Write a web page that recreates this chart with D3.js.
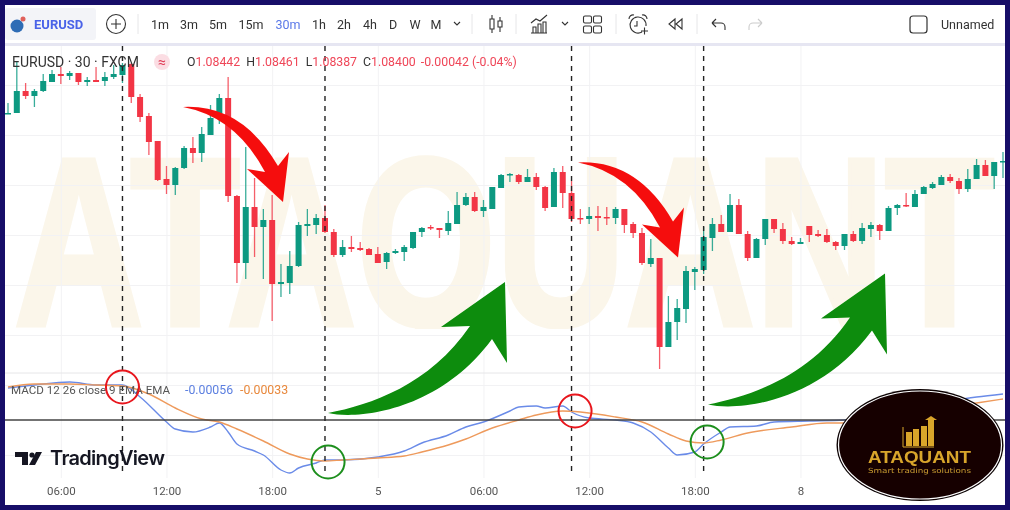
<!DOCTYPE html>
<html>
<head>
<meta charset="utf-8">
<script src="https://cdn.jsdelivr.net/npm/d3@7"></script>
<style>
html,body{margin:0;padding:0;background:#170e68;}
svg{display:block;font-family:Roboto,"Liberation Sans",sans-serif;}
</style>
</head>
<body>
<div id="chart"></div>
<script>
// one candle every 30 min, EURUSD
var opens = [1.08542,1.08544,1.08588,1.08578,1.08588,1.08606,1.08622,1.08618,1.08624,1.08606,
    1.08610,1.08608,1.08616,1.08620,1.08642,1.08576,1.08538,1.08488,1.08412,1.08400,
    1.08434,1.08474,1.08464,1.08500,1.08534,1.08574,1.08378,1.08244,1.08356,1.08316,
    1.08330,1.08202,1.08204,1.08238,1.08318,1.08320,1.08334,1.08306,1.08260,1.08276,
    1.08274,1.08272,1.08262,1.08246,1.08264,1.08266,1.08274,1.08306,1.08316,1.08314,
    1.08308,1.08322,1.08360,1.08376,1.08348,1.08352,1.08394,1.08420,1.08420,1.08406,
    1.08416,1.08396,1.08356,1.08426,1.08384,1.08334,1.08332,1.08338,1.08336,1.08334,
    1.08352,1.08322,1.08304,1.08242,1.08254,1.08076,1.08126,1.08152,1.08226,1.08230,
    1.08294,1.08322,1.08306,1.08360,1.08302,1.08254,1.08292,1.08332,1.08312,1.08288,
    1.08282,1.08318,1.08302,1.08300,1.08286,1.08278,1.08302,1.08288,1.08312,1.08320,
    1.08308,1.08354,1.08360,1.08356,1.08382,1.08394,1.08400,1.08416,1.08408,1.08392,
    1.08412,1.08440,1.08418,1.08446];
var highs = [1.08564,1.08646,1.08604,1.08592,1.08622,1.08630,1.08636,1.08628,1.08624,1.08616,
    1.08636,1.08626,1.08640,1.08644,1.08644,1.08582,1.08544,1.08488,1.08438,1.08436,
    1.08478,1.08496,1.08516,1.08560,1.08582,1.08616,1.08380,1.08476,1.08414,1.08352,
    1.08380,1.08242,1.08268,1.08326,1.08352,1.08342,1.08360,1.08312,1.08290,1.08298,
    1.08286,1.08274,1.08276,1.08266,1.08272,1.08280,1.08306,1.08316,1.08320,1.08314,
    1.08348,1.08386,1.08384,1.08386,1.08370,1.08396,1.08422,1.08424,1.08422,1.08432,
    1.08424,1.08398,1.08434,1.08438,1.08408,1.08352,1.08356,1.08358,1.08356,1.08356,
    1.08352,1.08326,1.08314,1.08292,1.08254,1.08178,1.08172,1.08238,1.08236,1.08316,
    1.08334,1.08340,1.08382,1.08372,1.08308,1.08294,1.08332,1.08332,1.08324,1.08296,
    1.08294,1.08318,1.08310,1.08312,1.08288,1.08302,1.08308,1.08324,1.08326,1.08322,
    1.08358,1.08362,1.08384,1.08390,1.08398,1.08406,1.08420,1.08422,1.08414,1.08432,
    1.08452,1.08450,1.08446,1.08466];
var lows = [1.08542,1.08544,1.08572,1.08556,1.08586,1.08606,1.08602,1.08610,1.08600,1.08598,
    1.08606,1.08598,1.08612,1.08604,1.08564,1.08526,1.08460,1.08408,1.08382,1.08380,
    1.08432,1.08444,1.08446,1.08500,1.08522,1.08366,1.08204,1.08212,1.08256,1.08212,
    1.08128,1.08176,1.08182,1.08236,1.08298,1.08302,1.08304,1.08256,1.08256,1.08266,
    1.08268,1.08260,1.08244,1.08232,1.08262,1.08248,1.08272,1.08296,1.08310,1.08294,
    1.08300,1.08322,1.08358,1.08346,1.08336,1.08352,1.08394,1.08406,1.08402,1.08406,
    1.08390,1.08348,1.08356,1.08354,1.08326,1.08322,1.08322,1.08308,1.08320,1.08322,
    1.08304,1.08294,1.08240,1.08236,1.08032,1.08076,1.08090,1.08124,1.08190,1.08222,
    1.08268,1.08306,1.08306,1.08302,1.08248,1.08254,1.08280,1.08304,1.08282,1.08280,
    1.08282,1.08286,1.08296,1.08284,1.08270,1.08270,1.08286,1.08282,1.08296,1.08290,
    1.08308,1.08340,1.08356,1.08356,1.08382,1.08392,1.08400,1.08404,1.08382,1.08386,
    1.08412,1.08418,1.08392,1.08414];
var closes = [1.08544,1.08588,1.08578,1.08588,1.08608,1.08622,1.08618,1.08624,1.08606,1.08610,
    1.08606,1.08616,1.08622,1.08640,1.08576,1.08536,1.08486,1.08410,1.08400,1.08434,
    1.08474,1.08464,1.08502,1.08534,1.08574,1.08378,1.08244,1.08356,1.08316,1.08330,
    1.08202,1.08206,1.08238,1.08320,1.08322,1.08334,1.08306,1.08260,1.08276,1.08272,
    1.08270,1.08260,1.08244,1.08264,1.08268,1.08276,1.08306,1.08314,1.08314,1.08310,
    1.08324,1.08360,1.08376,1.08348,1.08356,1.08396,1.08420,1.08422,1.08406,1.08416,
    1.08396,1.08354,1.08426,1.08384,1.08332,1.08332,1.08338,1.08334,1.08334,1.08352,
    1.08320,1.08304,1.08244,1.08254,1.08076,1.08126,1.08154,1.08228,1.08232,1.08296,
    1.08322,1.08306,1.08360,1.08302,1.08254,1.08292,1.08332,1.08312,1.08288,1.08282,
    1.08286,1.08300,1.08298,1.08286,1.08278,1.08302,1.08288,1.08314,1.08320,1.08308,
    1.08354,1.08360,1.08358,1.08382,1.08396,1.08402,1.08416,1.08408,1.08392,1.08412,
    1.08440,1.08418,1.08446,1.08448];

var macdIndex = [0,3,7,10,13,15,18,19,21,23,24,25,26,28,29,31,32,33,35,36,38,42,45,47,50,52,54,57,58,60,61,63,64,66,69,71,73,75,76,78,79,81,82,85,87,91,95,100,110,113];
var macdValues = [0.00032,0.00035,0.00038,0.00035,0.00035,0.00023,-0.00002,-0.00009,-0.00012,-0.00007,-0.00003,-0.00012,-0.00024,-0.00031,-0.00035,-0.00050,-0.00053,-0.00048,-0.00043,-0.00040,-0.00040,-0.00037,-0.00031,-0.00023,-0.00015,-0.00007,-0.00002,0.00009,0.00013,0.00014,0.00012,0.00014,0.00008,0.00002,0,-0.00003,-0.00012,-0.00028,-0.00035,-0.00032,-0.00024,-0.00012,-0.00007,-0.00006,-0.00002,-0.00001,0,0.00008,0.00023,0.00026];
var signalIndex = [0,3,7,10,13,16,19,22,24,26,29,32,34,36,38,42,45,47,50,52,55,58,60,63,65,69,72,75,77,79,81,84,89,93,95,100,110,113];
var signalValues = [0.00033,0.00036,0.00036,0.00035,0.00034,0.00026,0.00012,0.00001,-0.00002,-0.00009,-0.00021,-0.00034,-0.00039,-0.00041,-0.00040,-0.00038,-0.00036,-0.00032,-0.00025,-0.00019,-0.00008,0,0.00005,0.00009,0.00008,0.00003,-0.00002,-0.00014,-0.00021,-0.00023,-0.00020,-0.00013,-0.00007,-0.00003,-0.00003,0.00005,0.00017,0.00021];

var timeTicks = [6,18,30,42,54,66,78,90];
var timeLabels = ['06:00','12:00','18:00','5','06:00','12:00','18:00','8'];
var priceGrid = [1.0860,1.0850,1.0840,1.0830,1.0820,1.0810];
var macdGrid = [0.00035,-0.00035];
var signalBars = [13,36,64,79];   // the dashed verticals
var crossings = [[13,0.00033,'#e8141c'],[36.35,-0.00042,'#1f8f1f'],[64.4,0.00009,'#e8141c'],[79.4,-0.00022,'#1f8f1f']];
var timeframes = ['1m','3m','5m','15m','30m','1h','2h','4h','D','W','M'];
var timeframeX = [160,189,218,251,288,319,344,370,393,415,436];

var WIDTH = 1010, HEIGHT = 510;
var UP = '#089981', DOWN = '#f23645';

var x = d3.scaleLinear().domain([0,113]).range([8,1003]);
var y = d3.scaleLinear().domain([1.0877,1.0777]).range([0,500]);
var yMacd = d3.scaleLinear().domain([0.0004,-0.0006]).range([380,480]);

var svg = d3.select('#chart').append('svg').attr('width',WIDTH).attr('height',HEIGHT);
var defs = svg.append('defs');
defs.append('clipPath').attr('id','plot').append('rect').attr('x',5).attr('y',46).attr('width',1000).attr('height',459);
defs.append('filter').attr('id','soft').attr('x','-2%').attr('y','-2%').attr('width','104%').attr('height','104%')
    .append('feGaussianBlur').attr('stdDeviation',0.35);

svg.append('rect').attr('width',WIDTH).attr('height',HEIGHT).attr('fill','#170e68');
var root = svg.append('g').attr('filter','url(#soft)');
root.append('rect').attr('x',5).attr('y',5).attr('width',1000).attr('height',500).attr('fill','#fff');

var plot = root.append('g').attr('clip-path','url(#plot)');

// watermark, squeezed to the plot width
plot.append('text')
    .attr('transform','translate(14,325) scale(0.748,1)')
    .attr('font-family','"Liberation Sans",Arial,sans-serif').attr('font-weight',700).attr('font-size',240)
    .attr('fill','#fbf6ea').attr('stroke','#fbf6ea').attr('stroke-width',5)
    .text('ATAQUANT');
// the tail of the Q stops at the foot of the letters
plot.append('rect').attr('x',5).attr('y',329).attr('width',1000).attr('height',60).attr('fill','#fff');

// grid
function cleanGrid(g){
    g.select('.domain').remove();
    g.selectAll('.tick line').attr('stroke','#f2f2f4').attr('stroke-width',1);
    g.selectAll('.tick text').remove();
}
plot.append('g').attr('transform','translate(5,0)')
    .call(d3.axisLeft(y).tickValues(priceGrid).tickSize(-1000).tickFormat(''))
    .call(cleanGrid);
plot.append('g').attr('transform','translate(5,0)')
    .call(d3.axisLeft(yMacd).tickValues(macdGrid).tickSize(-1000).tickFormat(''))
    .call(cleanGrid);
plot.append('g').attr('transform','translate(0,478)')
    .call(d3.axisTop(x).tickValues(timeTicks).tickSize(432).tickFormat(''))
    .call(cleanGrid);
plot.append('line').attr('x1',5).attr('x2',1005).attr('y1',373).attr('y2',373).attr('stroke','#e6e6e8');

// candles
var candles = plot.append('g').selectAll('g').data(d3.range(opens.length)).enter().append('g');
function candleColor(i){ return closes[i] >= opens[i] ? UP : DOWN; }
candles.append('line')
    .attr('x1',function(i){ return x(i); })
    .attr('x2',function(i){ return x(i); })
    .attr('y1',function(i){ return y(highs[i]); })
    .attr('y2',function(i){ return y(lows[i]); })
    .attr('stroke',candleColor).attr('stroke-width',1.3).attr('stroke-opacity',0.8);
candles.append('rect')
    .attr('x',function(i){ return x(i)-3; })
    .attr('width',6)
    .attr('y',function(i){ return y(Math.max(opens[i],closes[i])); })
    .attr('height',function(i){ return Math.max(1.5,Math.abs(y(opens[i])-y(closes[i]))); })
    .attr('fill',candleColor);

// macd
function macdLine(idx,vals,color){
    var line = d3.line()
        .x(function(d){ return x(d); })
        .y(function(d,i){ return yMacd(vals[i]); })
        .curve(d3.curveMonotoneX);
    plot.append('path').attr('d',line(idx)).attr('fill','none').attr('stroke',color).attr('stroke-width',1.4);
}
macdLine(macdIndex,macdValues,'#6a8be8');
macdLine(signalIndex,signalValues,'#ee9a5c');
plot.append('line').attr('x1',5).attr('x2',1005).attr('y1',yMacd(0)).attr('y2',yMacd(0)).attr('stroke','#444').attr('stroke-width',1.5);

// dashed verticals at the signals
plot.selectAll('.signal').data(signalBars).enter().append('line')
    .attr('class','signal')
    .attr('x1',function(d){ return x(d); })
    .attr('x2',function(d){ return x(d); })
    .attr('y1',46).attr('y2',476)
    .attr('stroke','#222').attr('stroke-width',1.4).attr('stroke-dasharray','5 5');

// legend texts
plot.append('text').attr('x',12).attr('y',67).attr('font-size',14).attr('fill','#333').text('EURUSD · 30 · FXCM');
plot.append('circle').attr('cx',162).attr('cy',62).attr('r',8).attr('fill','#fbdde3');
plot.append('text').attr('x',162).attr('y',67).attr('text-anchor','middle').attr('font-size',14).attr('fill','#e0405a').text('≈');
var ohlc = plot.append('text').attr('x',187).attr('y',66).attr('font-size',12.3).attr('fill','#ef4658');
[['O','1.08442'],['H','1.08461'],['L','1.08387'],['C','1.08400']].forEach(function(p,i){
    ohlc.append('tspan').attr('dx',i?6:0).attr('fill','#333').text(p[0]);
    ohlc.append('tspan').text(p[1]);
});
ohlc.append('tspan').attr('dx',5).text('-0.00042 (-0.04%)');

plot.append('text').attr('x',11).attr('y',394).attr('font-size',11.6).attr('fill','#555').text('MACD 12 26 close 9 EMA EMA');
plot.append('text').attr('x',185).attr('y',394).attr('font-size',12.3).attr('fill','#5b7fe0').text('-0.00056');
plot.append('text').attr('x',240).attr('y',394).attr('font-size',12.3).attr('fill','#e8883c').text('-0.00033');

// arrows drawn over the chart
var redArrow = 'M183,107 Q242,104 278,166 L289,152 L283,202 L247,169 L265,172 Q236,117 183,107 Z';
var greenArrow = 'M328,413 C360,420 440,410 492,339 L507,363 L505,282 L441,327 L470,326 C430,385 370,405 328,413 Z';
plot.append('path').attr('d',redArrow).attr('fill','#f5100f');
plot.append('path').attr('d',redArrow).attr('fill','#f5100f').attr('transform','translate(395,55.5)');
plot.append('path').attr('d',greenArrow).attr('fill','#098c09');
plot.append('path').attr('d',greenArrow).attr('fill','#098c09').attr('transform','translate(380,-8.5)');

// crossing circles
plot.selectAll('.cross').data(crossings).enter().append('circle')
    .attr('class','cross')
    .attr('cx',function(d){ return x(d[0]); })
    .attr('cy',function(d){ return yMacd(d[1]); })
    .attr('r',16.5)
    .attr('fill','none')
    .attr('stroke',function(d){ return d[2]; })
    .attr('stroke-width',2);

// time axis
var axisG = root.append('g').attr('transform','translate(0,483)')
    .call(d3.axisBottom(x).tickValues(timeTicks).tickSize(0).tickPadding(4)
        .tickFormat(function(d,i){ return timeLabels[i]; }));
axisG.select('.domain').remove();
axisG.selectAll('text').attr('font-size',11.5).attr('font-family','Roboto,sans-serif').attr('fill','#555');

// tradingview mark
var tv = root.append('g');
tv.append('path').attr('d','M15,452 H28 V465 H22 V457 H15 Z').attr('fill','#131722');
tv.append('circle').attr('cx',32).attr('cy',455).attr('r',2.6).attr('fill','#131722');
tv.append('path').attr('d','M36,452 H42 L35,465 H29 Z').attr('fill','#131722');
tv.append('text').attr('x',50).attr('y',465).attr('font-family','Inter,Roboto,sans-serif').attr('font-size',20).attr('font-weight',600)
    .attr('fill','#131722').attr('textLength',115).text('TradingView');

// round logo
var logo = root.append('g');
logo.append('ellipse').attr('cx',920).attr('cy',445).attr('rx',83.5).attr('ry',56).attr('fill','#0d0405');
logo.append('ellipse').attr('cx',920).attr('cy',445).attr('rx',81.5).attr('ry',54).attr('fill','#160305').attr('stroke','#fff').attr('stroke-width',1.2);
logo.append('path').attr('d','M903,427 V447 H934').attr('fill','none').attr('stroke','#d9a52c').attr('stroke-width',1);
[[906,432],[913,429],[921,426],[928,420]].forEach(function(b){
    logo.append('rect').attr('x',b[0]).attr('y',b[1]).attr('width',6).attr('height',446-b[1]).attr('fill','#d9a52c');
});
logo.append('path').attr('d','M925,420 L931,416 L937,420 Z').attr('fill','#d9a52c');
logo.append('text').attr('x',868).attr('y',463).attr('textLength',103).attr('lengthAdjust','spacingAndGlyphs')
    .attr('font-family','"Liberation Sans",sans-serif').attr('font-weight',700).attr('font-size',16.5).attr('fill','#d9a52c').text('ATAQUANT');
logo.append('text').attr('x',868).attr('y',473).attr('textLength',103).attr('lengthAdjust','spacingAndGlyphs')
    .attr('font-family','"DejaVu Sans",sans-serif').attr('font-size',7).attr('fill','#c99a2e').text('Smart trading solutions');

// toolbar
var bar = root.append('g');
bar.append('rect').attr('x',5).attr('y',5).attr('width',1000).attr('height',38).attr('fill','#fff');
bar.append('rect').attr('x',5).attr('y',43).attr('width',1000).attr('height',3).attr('fill','#e6e6f2');
bar.append('rect').attr('x',5).attr('y',8).attr('width',91).attr('height',32).attr('rx',3).attr('fill','#f3f4f8');
bar.append('circle').attr('cx',17).attr('cy',26).attr('r',6.5).attr('fill','#2f6cb5');
bar.append('circle').attr('cx',23).attr('cy',19).attr('r',2.5).attr('fill','#e0605a');
bar.append('text').attr('x',34).attr('y',29).attr('font-size',13).attr('font-weight',700).attr('fill','#4a62e8').text('EURUSD');
bar.append('circle').attr('cx',116).attr('cy',24).attr('r',9.5).attr('fill','none').attr('stroke','#333').attr('stroke-width',1.1);
bar.append('path').attr('d','M116,19 V29 M111,24 H121').attr('stroke','#333').attr('stroke-width',1.1);

bar.selectAll('.tf').data(timeframes).enter().append('text')
    .attr('class','tf')
    .attr('x',function(d,i){ return timeframeX[i]; })
    .attr('y',29)
    .attr('text-anchor','middle')
    .attr('font-size',12.5)
    .attr('fill',function(d){ return d=='30m' ? '#5a78e8' : '#333'; })
    .text(function(d){ return d; });

bar.selectAll('.sep').data([138,472,516,616,697]).enter().append('line')
    .attr('class','sep')
    .attr('x1',function(d){ return d; }).attr('x2',function(d){ return d; })
    .attr('y1',14).attr('y2',34).attr('stroke','#e6e6e8');

var icons = [
    'M454,22 L457,25 L460,22',                                // chevron
    'M490,19 h4 v10 h-4 z M492,15 v4 M492,29 v4 M498,21 h4 v6 h-4 z M500,17 v4 M500,27 v5', // candles
    'M531,33 h16 M533,33 v-6 h3 v6 M538,33 v-9 h3 v9 M543,33 v-11 h3 v11 M531,23 l5,-4 l4,2 l7,-6', // indicators
    'M562,22 L565,25 L568,22',
    'M585,16 h5 a1.5,1.5 0 0 1 1.5,1.5 v4 a1.5,1.5 0 0 1 -1.5,1.5 h-5 a1.5,1.5 0 0 1 -1.5,-1.5 v-4 a1.5,1.5 0 0 1 1.5,-1.5 z M595,16 h5 a1.5,1.5 0 0 1 1.5,1.5 v4 a1.5,1.5 0 0 1 -1.5,1.5 h-5 a1.5,1.5 0 0 1 -1.5,-1.5 v-4 a1.5,1.5 0 0 1 1.5,-1.5 z M585,26 h5 a1.5,1.5 0 0 1 1.5,1.5 v4 a1.5,1.5 0 0 1 -1.5,1.5 h-5 a1.5,1.5 0 0 1 -1.5,-1.5 v-4 a1.5,1.5 0 0 1 1.5,-1.5 z M595,26 h5 a1.5,1.5 0 0 1 1.5,1.5 v4 a1.5,1.5 0 0 1 -1.5,1.5 h-5 a1.5,1.5 0 0 1 -1.5,-1.5 v-4 a1.5,1.5 0 0 1 1.5,-1.5 z', // layouts
    'M642,32 a8,8 0 1 1 4,-6 M629,19 a4,4 0 0 1 5,-4 M642,15 a4,4 0 0 1 5,4 M637,21 v5 h-3 M641,31 h7 M644.5,27.5 v7', // alarm
    'M675,19 l-6,5 l6,5 z M682,19 l-6,5 l6,5 z',              // replay
    'M712,23 h9 a4,4 0 0 1 4,4 v3 M712,23 l4,-4 M712,23 l4,4' // undo
];
icons.forEach(function(d){
    bar.append('path').attr('d',d).attr('fill','none').attr('stroke','#333').attr('stroke-width',1.1);
});
bar.append('path').attr('d','M762,23 h-9 a4,4 0 0 0 -4,4 v3 M762,23 l-4,-4 M762,23 l-4,4').attr('fill','none').attr('stroke','#ccc').attr('stroke-width',1.1);
bar.append('rect').attr('x',910).attr('y',16).attr('width',17).attr('height',17).attr('rx',3).attr('fill','none').attr('stroke','#333').attr('stroke-width',1.2);
bar.append('text').attr('x',941).attr('y',29).attr('font-size',12.5).attr('fill','#333').text('Unnamed');
</script>
</body>
</html>
